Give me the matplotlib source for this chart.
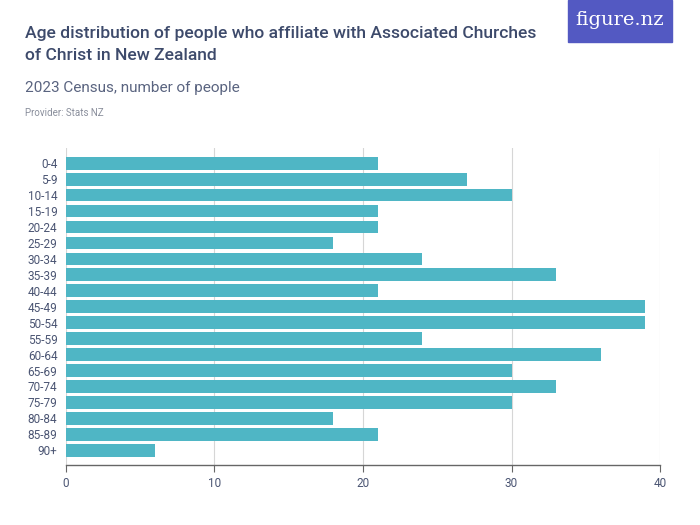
import matplotlib.pyplot as plt
from matplotlib.patches import Rectangle

# Data
age_groups = ["0-4", "5-9", "10-14", "15-19", "20-24", "25-29", "30-34", "35-39",
              "40-44", "45-49", "50-54", "55-59", "60-64", "65-69", "70-74",
              "75-79", "80-84", "85-89", "90+"]
people = [21, 27, 30, 21, 21, 18, 24, 33, 21, 39, 39, 24, 36, 30, 33, 30, 18, 21, 6]

title = "Age distribution of people who affiliate with Associated Churches\nof Christ in New Zealand"
subtitle = "2023 Census, number of people"
provider = "Provider: Stats NZ"

bar_color = "#4fb6c5"
text_color = "#3d4a6b"
tick_color = "#4b5573"

plt.rcParams['font.family'] = ['Roboto', 'DejaVu Sans']

fig = plt.figure(figsize=(7, 5.25), dpi=100)
ax = fig.add_axes([0.094, 0.115, 0.849, 0.603])

ax.barh(range(len(age_groups)), people, height=0.8, color=bar_color, zorder=2)
ax.set_ylim(len(age_groups) - 0.1, -0.95)
ax.set_xlim(0, 40)
ax.set_xticks([0, 10, 20, 30, 40])
ax.set_yticks(range(len(age_groups)))
ax.set_yticklabels(age_groups)

ax.grid(axis='x', color='#d6d6d6', linewidth=0.8, zorder=0)
for s in ['top', 'right', 'left']:
    ax.spines[s].set_visible(False)
ax.spines['bottom'].set_color('#666666')
ax.spines['bottom'].set_linewidth(1)
ax.tick_params(axis='y', length=0, pad=6, labelsize=8.5, labelcolor=tick_color)
ax.tick_params(axis='x', length=5, color='#666666', labelsize=8.5, labelcolor=tick_color, pad=4)

# Titles
fig.text(0.036, 0.950, title, fontsize=12.6, fontweight='medium', color=text_color,
         va='top', linespacing=1.55)
fig.text(0.036, 0.846, subtitle, fontsize=11, color='#5a6480', va='top')
fig.text(0.036, 0.794, provider, fontsize=7, color='#8a8f9c', va='top')

# Logo
fig.patches.append(Rectangle((0.811, 0.92), 0.149, 0.08, transform=fig.transFigure,
                             color='#5359c2', zorder=0))
fig.text(0.885, 0.962, "figure.nz", fontsize=14, color='white', ha='center', va='center',
         family='DejaVu Serif')

fig.savefig("out.png", dpi=100, facecolor='white')
